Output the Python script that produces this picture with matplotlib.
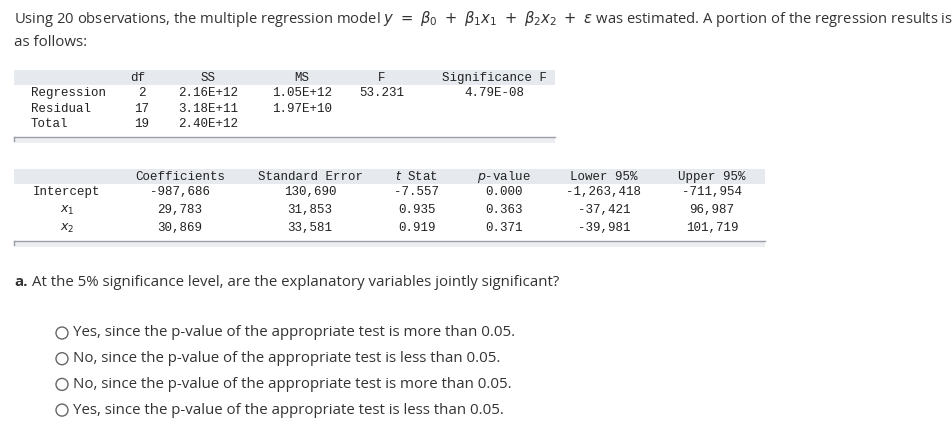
import matplotlib
matplotlib.use("Agg")
import matplotlib.pyplot as plt
from matplotlib.patches import Rectangle, Circle

anova_cols = ["df", "SS", "MS", "F", "Significance F"]
anova_rows = ["Regression", "Residual", "Total"]
anova_vals = [["2", "2.16E+12", "1.05E+12", "53.231", "4.79E-08"],
              ["17", "3.18E+11", "1.97E+10", "", ""],
              ["19", "2.40E+12", "", "", ""]]
coef_cols = ["Coefficients", "Standard Error", "$t$ Stat", "$p$-value", "Lower 95%", "Upper 95%"]
coef_rows = ["Intercept", "$x_1$", "$x_2$"]
coef_vals = [["-987,686", "130,690", "-7.557", "0.000", "-1,263,418", "-711,954"],
             ["29,783", "31,853", "0.935", "0.363", "-37,421", "96,987"],
             ["30,869", "33,581", "0.919", "0.371", "-39,981", "101,719"]]
options = ["Yes, since the p-value of the appropriate test is more than 0.05.",
           "No, since the p-value of the appropriate test is less than 0.05.",
           "No, since the p-value of the appropriate test is more than 0.05.",
           "Yes, since the p-value of the appropriate test is less than 0.05."]

fig = plt.figure(figsize=(9.52, 4.42), dpi=100)
ax = fig.add_axes([0, 0, 1, 1])
ax.set_xlim(0, 952); ax.set_ylim(442, 0); ax.axis("off")

sans = "Open Sans"
mono = "Liberation Mono"
tc = "#333333"
ax.text(14, 19, "Using 20 observations, the multiple regression model $y\\ =\\ \\beta_0\\ +\\ \\beta_1x_1\\ +\\ \\beta_2x_2\\ +\\ \\varepsilon$ was estimated. A portion of the regression results is",
        fontsize=10.65, family=sans, color=tc, va="center")
ax.text(14, 42, "as follows:", fontsize=10.8, family=sans, color=tc, va="center")

def table(x0, x1, ytop, cols, colx, rows, vals, valx, ystep, rowx, rowha):
    ax.add_patch(Rectangle((x0, ytop), x1 - x0, 15, color="#e6e9ee", lw=0))
    for c, x in zip(cols, colx):
        ax.text(x, ytop + 8, c, family=mono, fontsize=9, ha="center", va="center", color="#222")
    for i, r in enumerate(rows):
        y = ytop + 23 + i * ystep
        ax.text(rowx, y, r, family=mono, fontsize=9, ha=rowha, va="center", color="#222")
        for v, x in zip(vals[i], valx):
            ax.text(x, y, v, family=mono, fontsize=9, ha="center", va="center", color="#222")
    yb = ytop + 23 + 2 * ystep + 13
    ax.add_patch(Rectangle((x0, yb), x1 - x0, 6, color="#eceef2", lw=0))
    ax.plot([x0, x1], [yb, yb], color="#9a9ea6", lw=1)
    ax.plot([x0, x0], [yb, yb + 4], color="#9a9ea6", lw=1)

table(14, 555, 70, anova_cols, [138, 208, 302, 382, 494], anova_rows, anova_vals,
      [142, 208, 302, 382, 494], 15.5, 31, "left")
table(14, 765, 169, coef_cols, [180, 310, 417, 504, 604, 712], coef_rows, coef_vals,
      [180, 310, 417, 504, 604, 712], 18, 67, "center")

ax.text(14, 282, "a.", fontsize=10.8, family=sans, weight="bold", color=tc, va="center")
ax.text(32, 282, "At the 5% significance level, are the explanatory variables jointly significant?",
        fontsize=10.8, family=sans, color=tc, va="center")
for i, o in enumerate(options):
    y = 333 + i * 25.7
    ax.add_patch(Circle((62, y), 6, fill=False, ec="#666", lw=1))
    ax.text(73, y, o, fontsize=10.8, family=sans, color=tc, va="center")

fig.savefig("out.png", dpi=100)
